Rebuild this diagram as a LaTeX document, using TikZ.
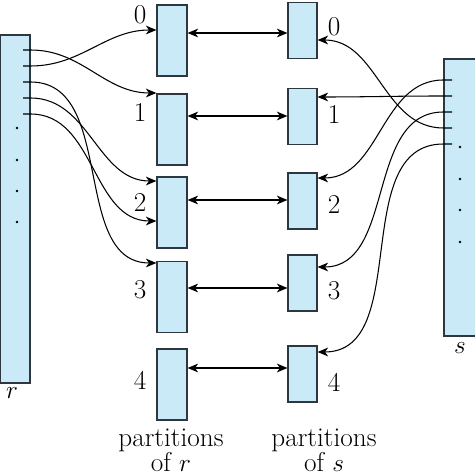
\documentclass[tikz,border=0pt]{standalone}
\usetikzlibrary{arrows.meta}
\begin{document}
\begin{tikzpicture}[>={Stealth[length=6pt,width=5pt,inset=1.8pt]},x=0.2mm,y=-0.2mm,
  font=\fontsize{15.5}{14.2}\selectfont]

\definecolor{boxblue}{RGB}{202,234,247}
\definecolor{boxline}{RGB}{45,55,65}
\tikzset{
  relbar/.style={draw=boxline,fill=boxblue,line width=0.7pt,inner sep=0pt},
  rpart/.style={relbar,minimum width=0.6cm,minimum height=1.42cm},
  spart/.style={relbar,minimum width=0.58cm,minimum height=1.12cm},
  conn/.style={line width=0.6pt}
}

\useasboundingbox (0,0) rectangle (474,476);

% relations
\node[relbar,minimum width=0.59cm,minimum height=6.96cm] (r) at (15.25,209) {};
\node[relbar,minimum width=0.64cm,minimum height=5.54cm] (s) at (460,197.5) {};
\node (rname) at (12,393) {$r$};
\node (sname) at (460,348) {$s$};
\foreach \y in {128,160,191,222} \fill (17,\y) circle (0.8pt);
\foreach \y in {147,179,210,242} \fill (460,\y) circle (0.8pt);

% partitions
\foreach \i/\y in {0/40.5,1/129.5,2/212.5,3/297,4/384.5}
  \node[rpart] (r\i) at (172,\y) {};
\foreach \i/\y in {0/30.5,1/116.5,2/201,3/283,4/374}
  \node[spart] (s\i) at (302.5,\y) {};
\foreach \i/\y in {0/15,1/113,2/202,3/290,4/380}
  \node (rnum\i) at (140,\y) {\i};
\foreach \i/\y in {0/27,1/115,2/204,3/291,4/382}
  \node (snum\i) at (334,\y) {\i};

\node[align=center] (rparts) at (171,450) {partitions\\of $r$};
\node[align=center] (sparts) at (324,450) {partitions\\of $s$};

% pairs of partitions
\foreach \i/\y in {0/33,1/116,2/200,3/288,4/368}
  \draw[conn,<->] (r\i.east |- 0,\y) -- (s\i.west |- 0,\y);

% tuples of r
\foreach \n/\y/\t/\ty in {1/50/1/93,2/66/0/30,3/82/3/263,4/98/2/181,5/114/2/221}
  \draw[conn,->] (23,\y) coordinate (rt\n) -- (r.east |- 0,\y)
    to[out=0,in=180] (r\t.west |- 0,\ty);

% tuples of s
\foreach \n/\y/\t/\ty in {1/80/2/178,2/96/1/97,3/112/3/267,4/128/0/40,5/144/4/352}
  \draw[conn,->] (452,\y) coordinate (st\n) -- (s.west |- 0,\y)
    to[out=180,in=0] (s\t.east |- 0,\ty);

\end{tikzpicture}
\end{document}
